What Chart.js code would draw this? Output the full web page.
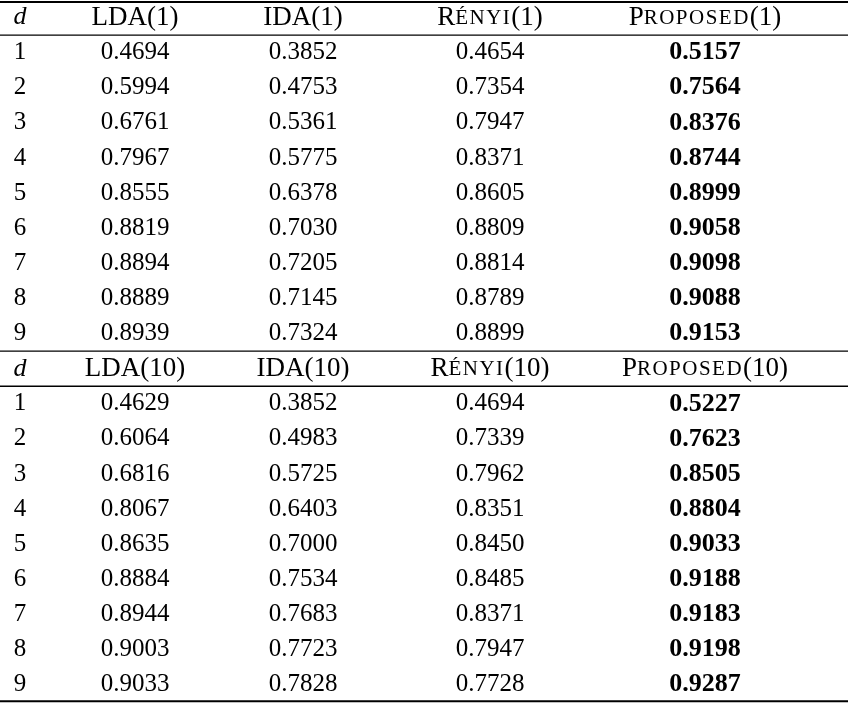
<!DOCTYPE html>
<html><head><meta charset="utf-8">
<script src="https://cdn.jsdelivr.net/npm/chart.js@4"></script>
<style>html,body{margin:0;padding:0;background:#fff}#w{width:850px;height:704px}</style>
</head><body><div id="w"><canvas id="c"></canvas></div>
<script>
const dims = [1,2,3,4,5,6,7,8,9];
const lda1 = [0.4694,0.5994,0.6761,0.7967,0.8555,0.8819,0.8894,0.8889,0.8939];
const ida1 = [0.3852,0.4753,0.5361,0.5775,0.6378,0.7030,0.7205,0.7145,0.7324];
const renyi1 = [0.4654,0.7354,0.7947,0.8371,0.8605,0.8809,0.8814,0.8789,0.8899];
const prop1 = [0.5157,0.7564,0.8376,0.8744,0.8999,0.9058,0.9098,0.9088,0.9153];
const lda10 = [0.4629,0.6064,0.6816,0.8067,0.8635,0.8884,0.8944,0.9003,0.9033];
const ida10 = [0.3852,0.4983,0.5725,0.6403,0.7000,0.7534,0.7683,0.7723,0.7828];
const renyi10 = [0.4694,0.7339,0.7962,0.8351,0.8450,0.8485,0.8371,0.7947,0.7728];
const prop10 = [0.5227,0.7623,0.8505,0.8804,0.9033,0.9188,0.9183,0.9198,0.9287];
const colCenters = [20,135,303,490,705];

const F='"Liberation Serif", "DejaVu Serif", serif';
function drawSC(ctx, parts, cx, cy){
  let w=0;
  parts.forEach(p=>{ctx.font=(p[1]?'21px ':'27px ')+F; w+=ctx.measureText(p[0]).width + (p[1]?p[0].length*1.5:0);});
  let x=cx-w/2;
  ctx.textAlign='left';
  parts.forEach(p=>{
    ctx.font=(p[1]?'21px ':'27px ')+F;
    if(p[1]){ for(const ch of p[0]){ctx.fillText(ch,x,cy+1); x+=ctx.measureText(ch).width+1.5;} }
    else { ctx.fillText(p[0],x,cy); x+=ctx.measureText(p[0]).width; }
  });
}
function headers(n){
  return [
    [['d',0]], [['LDA('+n+')',0]], [['IDA('+n+')',0]],
    [['R',0],['ÉNYI',1],['('+n+')',0]],
    [['P',0],['ROPOSED',1],['('+n+')',0]]
  ];
}
const tablePlugin={id:'table',afterDraw(chart){
  const ctx=chart.ctx, xs=chart.scales.x, ys=chart.scales.y;
  ctx.save(); ctx.fillStyle='#000'; ctx.textBaseline='middle';
  const blocks=[[1,lda1,ida1,renyi1,prop1],[10,lda10,ida10,renyi10,prop10]];
  blocks.forEach((b,bi)=>{
    const base=bi*10;
    const hy=ys.getPixelForValue(base);
    headers(b[0]).forEach((h,ci)=>{
      const cx=xs.getPixelForValue(colCenters[ci]);
      if(ci===0){ctx.font='italic 26px '+F;ctx.textAlign='center';ctx.fillText('d',cx,hy);}
      else drawSC(ctx,h,cx,hy);
    });
    dims.forEach((d,ri)=>{
      const y=ys.getPixelForValue(base+1+ri);
      ctx.textAlign='center';
      ctx.font='25px '+F;
      ctx.fillText(String(d),xs.getPixelForValue(colCenters[0]),y);
      [b[1],b[2],b[3]].forEach((arr,k)=>ctx.fillText(arr[ri].toFixed(4),xs.getPixelForValue(colCenters[k+1]),y));
      ctx.font='bold 26px '+F;
      ctx.fillText(b[4][ri].toFixed(4),xs.getPixelForValue(colCenters[4]),y);
    });
  });
  const L=xs.getPixelForValue(0), R=xs.getPixelForValue(848);
  [[-0.44,2],[0.5,1.3],[9.5,1.3],[10.5,1.3],[19.47,2]].forEach(([v,w])=>{
    const y=ys.getPixelForValue(v); ctx.lineWidth=w; ctx.strokeStyle='#000';
    ctx.beginPath(); ctx.moveTo(L,y); ctx.lineTo(R,y); ctx.stroke();
  });
  ctx.restore();
}};
new Chart(document.getElementById('c'),{
  type:'scatter',
  data:{datasets:[{data:[],pointRadius:0}]},
  options:{responsive:true,maintainAspectRatio:false,animation:false,
    layout:{padding:0},
    plugins:{legend:{display:false},tooltip:{enabled:false}},
    scales:{
      x:{type:'linear',min:0,max:850,display:false},
      y:{type:'linear',min:-0.5,max:19.55,reverse:true,display:false}
    }},
  plugins:[tablePlugin]
});
</script></body></html>
